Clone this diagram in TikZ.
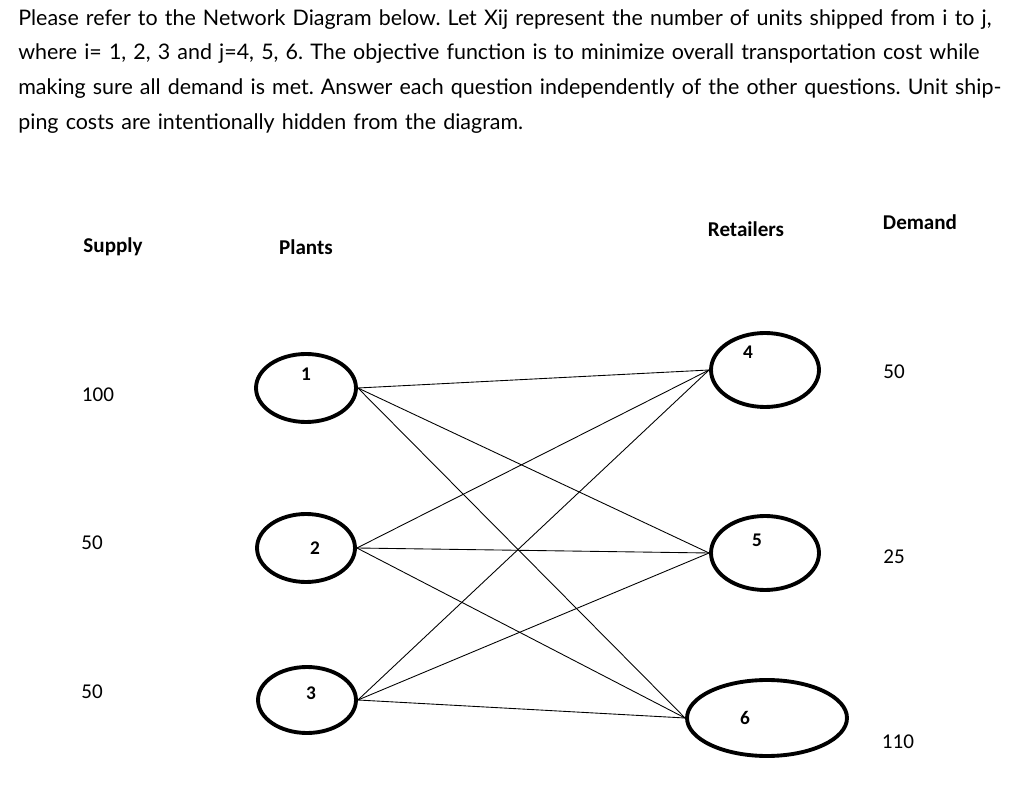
\documentclass[tikz,border=0pt]{standalone}
\usepackage{fontspec}
\setmainfont{Lato}
\newfontfamily\labelfont{Carlito}
\usetikzlibrary{shapes.geometric}
\begin{document}
\begin{tikzpicture}[x=0.02cm,y=-0.02cm]

%
% Styles
%
\tikzset{
  site/.style={ellipse,draw,line width=2.2pt,inner sep=0pt},
  arc/.style={draw,line width=0.5pt},
  head/.style={font=\labelfont\bfseries\fontsize{12}{14}\selectfont},
  num/.style={font=\labelfont\fontsize{12}{14}\selectfont},
  tag/.style={font=\labelfont\bfseries\fontsize{11}{13}\selectfont}
}

\useasboundingbox (0,0) rectangle (1024,786);

\node[anchor=north west,align=left,text width=19.9cm,font=\fontsize{12.2}{19.8}\selectfont,inner sep=0pt]
  (txt) at (18,9) {\frenchspacing\hyphenpenalty=10000 Please refer to the Network Diagram below. Let Xij represent the number of units shipped from i to j, where i= 1, 2, 3 and j=4, 5, 6. The objective function is to minimize overall transportation cost while making sure all demand is met. Answer each question independently of the other questions. Unit shipping costs are intentionally hidden from the diagram.};

\node[head] (hs) at (113,247) {Supply};
\node[head] (hp) at (306,247) {Plants};
\node[head] (hr) at (746,229) {Retailers};
\node[head] (hd) at (920,222) {Demand};

\node[site,minimum width=2.0cm,minimum height=1.36cm] (p1) at (306,388) {};
\node[site,minimum width=1.96cm,minimum height=1.36cm] (p2) at (306,548) {};
\node[site,minimum width=1.96cm,minimum height=1.32cm] (p3) at (307,700) {};
\node[site,minimum width=2.16cm,minimum height=1.48cm] (r4) at (765,370) {};
\node[site,minimum width=2.16cm,minimum height=1.48cm] (r5) at (765,553) {};
\node[site,minimum width=3.2cm,minimum height=1.52cm] (r6) at (767,718) {};

\node[tag] (t1) at (306,374) {1};
\node[tag] (t2) at (315,548) {2};
\node[tag] (t3) at (311,693) {3};
\node[tag] (t4) at (748,352) {4};
\node[tag] (t5) at (757,540) {5};
\node[tag] (t6) at (745,718) {6};

\node[num] (s1) at (98,395) {100};
\node[num] (s2) at (92,543) {50};
\node[num] (s3) at (92,692) {50};
\node[num] (d4) at (894,372) {50};
\node[num] (d5) at (894,557) {25};
\node[num] (d6) at (898,742) {110};

\foreach \p in {p1,p2,p3}
  \foreach \r in {r4,r5,r6}
    \draw[arc] (\p.east) -- (\r.west);

\end{tikzpicture}
\end{document}
